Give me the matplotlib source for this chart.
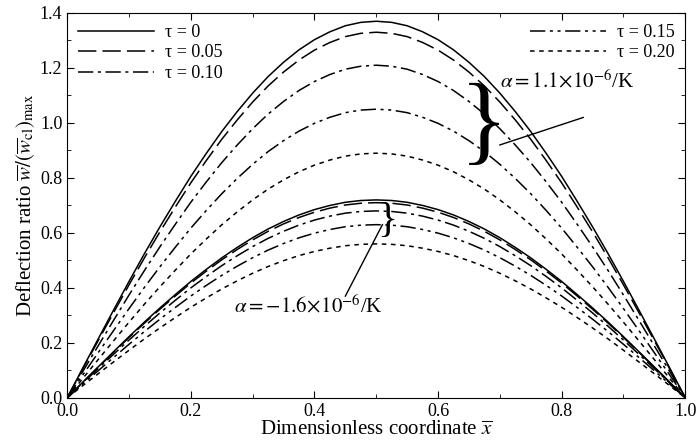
import numpy as np
import matplotlib.pyplot as plt
from matplotlib.ticker import MultipleLocator

plt.rcParams['font.family'] = ['Liberation Serif', 'DejaVu Serif']
plt.rcParams['mathtext.fontset'] = 'stix'

# normalised deflection profile, left half (x = 0 .. 0.5), symmetric
half = [0.0, 0.0785, 0.156, 0.233, 0.309, 0.383, 0.454, 0.522, 0.588, 0.649, 0.707,
        0.760, 0.809, 0.853, 0.891, 0.924, 0.951, 0.972, 0.988, 0.997, 1.0]
profile = half + half[-2::-1]
x = [i * 0.025 for i in range(len(profile))]

taus = ['0', '0.05', '0.10', '0.15', '0.20']
peak_pos = [1.37, 1.33, 1.21, 1.05, 0.89]   # alpha = 1.1e-6/K
peak_neg = [0.72, 0.71, 0.68, 0.63, 0.56]   # alpha = -1.6e-6/K

styles = ['-', (0, (12, 4)), (0, (10, 3, 2, 3)), (0, (10, 3, 2, 3, 2, 3)), (0, (3, 3))]

fig, ax = plt.subplots(figsize=(7, 4.48), dpi=100)
fig.subplots_adjust(left=0.096, right=0.979, top=0.971, bottom=0.112)

prof = np.array(profile)
handles = []
for tau, p1, p2, ls in zip(taus, peak_pos, peak_neg, styles):
    h, = ax.plot(x, p1 * prof, color='black', lw=1.1, ls=ls, label=f'τ = {tau}')
    ax.plot(x, p2 * prof, color='black', lw=1.1, ls=ls)
    handles.append(h)

leg1 = ax.legend(handles=handles[:3], loc='upper left', frameon=False, fontsize=13,
                 handlelength=4.2, borderaxespad=0.2, labelspacing=0.2, handletextpad=0.6)
ax.add_artist(leg1)
ax.legend(handles=handles[3:], loc='upper right', frameon=False, fontsize=13,
          handlelength=4.2, borderaxespad=0.2, labelspacing=0.2, handletextpad=0.6)

# braces and labels
ax.text(0.675, 0.98, '}', fontsize=72, va='center', ha='center', fontweight='light')
ax.text(0.518, 0.645, '}', fontsize=30, va='center', ha='center')
ax.plot([0.70, 0.835], [0.92, 1.02], color='black', lw=1)
ax.plot([0.51, 0.45], [0.63, 0.37], color='black', lw=1)
ax.text(0.70, 1.13, r'$\alpha = 1.1\!\times\!10^{-6}$/K', fontsize=15)
ax.text(0.27, 0.31, r'$\alpha = -1.6\!\times\!10^{-6}$/K', fontsize=15)

ax.xaxis.set_major_locator(MultipleLocator(0.2))
ax.xaxis.set_minor_locator(MultipleLocator(0.1))
ax.yaxis.set_major_locator(MultipleLocator(0.2))
ax.yaxis.set_minor_locator(MultipleLocator(0.1))
ax.set_xlim(0, 1)
ax.set_ylim(0, 1.4)
ax.xaxis.set_major_formatter(lambda v, pos: f'{v:.1f}')
ax.yaxis.set_major_formatter(lambda v, pos: f'{v:.1f}')
ax.tick_params(which='both', direction='in', top=True, right=True, labelsize=13)
ax.tick_params(which='major', length=5)
ax.tick_params(which='minor', length=3)

ax.set_xlabel(r'Dimensionless coordinate $\overline{x}$', fontsize=15, labelpad=1)
ax.set_ylabel(r'Deflection ratio $\overline{w}/\left(\overline{w}_{\rm cl}\right)_{\rm max}$',
              fontsize=15, labelpad=2)

plt.savefig('out.png', dpi=100)
